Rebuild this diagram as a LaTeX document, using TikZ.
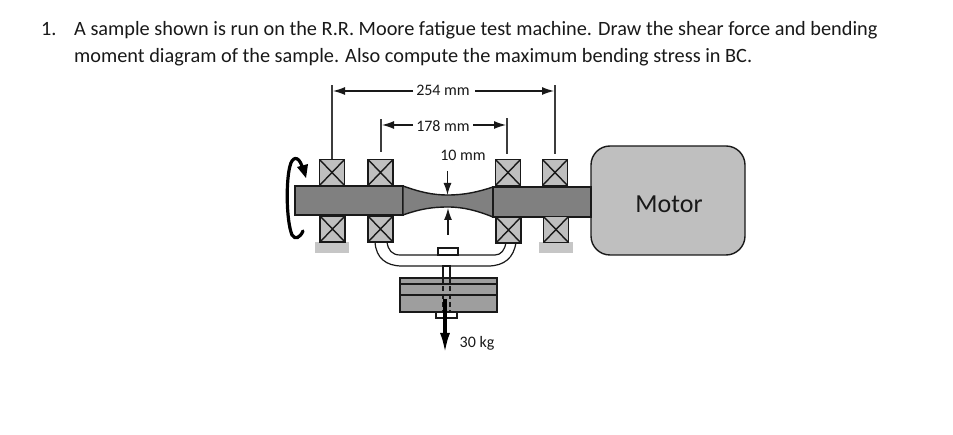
\documentclass[tikz,border=0pt]{standalone}
\usepackage{fontspec}
\setmainfont{Carlito}
\usetikzlibrary{arrows.meta,calc}
\definecolor{lg}{gray}{0.75}
\definecolor{dg}{gray}{0.5}
\definecolor{mg}{gray}{0.62}
\definecolor{ink}{gray}{0.1}
\tikzset{
  x=1pt,y=-1pt,
  brg/.style={draw=ink,line width=1.8pt,fill=lg,minimum width=25pt,minimum height=26pt,inner sep=0pt,outer sep=0pt},
  base/.style={fill=lg!90!white,draw=none,minimum width=34pt,minimum height=11pt,inner sep=0pt},
  dimline/.style={draw=ink!85!white,line width=1.2pt},
  dimarrow/.style={draw=ink,line width=1.2pt,-{Latex[length=12pt,width=8pt]}},
  ptr/.style={draw=ink,line width=1.3pt,-{Latex[length=12pt,width=8pt]}},
  part/.style={draw=ink,line width=1.4pt},
  lab/.style={inner sep=0pt,anchor=base,font=\fontsize{16}{16}\selectfont,text=ink},
  para/.style={inner sep=0pt,anchor=base west,font=\fontsize{20.3}{24}\selectfont,text=ink},
}
\newcommand{\crossed}[1]{\draw[ink,line width=1.4pt] (#1.north west)--(#1.south east) (#1.north east)--(#1.south west);}
\begin{document}
\begin{tikzpicture}
\useasboundingbox (0,0) rectangle (953,435);
\fill[white] (0,0) rectangle (953,435);
% text
\node[para] (n1) at (41,36) {1.};
\node[para] (t1) at (74,36) {A sample shown is run on the R.R. Moore fatigue test machine. Draw the shear force and bending};
\node[para] (t2) at (74,63) {moment diagram of the sample. Also compute the maximum bending stress in BC.};
% ground
\node[base] (g1) at (332,247.5) {};
\node[base] (g2) at (556,247.5) {};
% yoke
\draw[part,line width=1.2pt] (375,242) .. controls (376,258) and (386,266) .. (402,266) -- (488,266) .. controls (504,266) and (514,258) .. (516,242);
\draw[part,line width=1.2pt] (387,242) .. controls (388,250) and (392,255) .. (400,255) -- (495,255) .. controls (501,255) and (505,250) .. (506,242);
\node[part,fill=white,minimum width=20pt,minimum height=7pt,inner sep=0pt,outer sep=0pt] (tab) at (448,251.5) {};
% motor
\node[part,fill=lg,rounded corners=19pt,minimum width=154pt,minimum height=109pt,inner sep=0pt,outer sep=0pt] (motor) at (668,200.5) {};
\node[lab,font=\fontsize{26}{26}\selectfont] (motorlab) at (669,213) {Motor};
% shaft
\draw[part,fill=dg] (295,186) rectangle (403,215);
\draw[part,fill=dg] (403,186) .. controls (420,192) and (432,195) .. (448,195) .. controls (464,195) and (478,192) .. (493,187) -- (493,217) .. controls (478,211) and (464,207) .. (448,207) .. controls (432,207) and (420,209) .. (403,215) -- cycle;
\draw[part,fill=dg] (493,187) rectangle (591,217);
% bearings
\node[brg] (b1) at (332,172.5) {}; \crossed{b1}
\node[brg] (b2) at (380.5,172.5) {}; \crossed{b2}
\node[brg] (b3) at (508,172.5) {}; \crossed{b3}
\node[brg] (b4) at (555,172.5) {}; \crossed{b4}
\node[brg] (b5) at (332.5,229) {}; \crossed{b5}
\node[brg] (b6) at (380.5,229) {}; \crossed{b6}
\node[brg] (b7) at (508.5,230) {}; \crossed{b7}
\node[brg] (b8) at (556,229.5) {}; \crossed{b8}
% dimensions
\node[lab] (d254) at (443,96) {254 mm};
\node[lab] (d178) at (443,132) {178 mm};
\node[lab] (d10) at (463,161) {10 mm};
\coordinate (t254l) at (332,85);
\coordinate (t254r) at (555,85);
\coordinate (t178l) at (381,119);
\coordinate (t178r) at (507,118);
\coordinate (e178l) at (381,152);
\coordinate (e178r) at (507,154);
\coordinate (e254r) at (555,154);
\draw[dimline] (b1.north) -- (t254l);
\draw[dimline] (e254r) -- (t254r);
\draw[dimline] (e178l) -- (t178l);
\draw[dimline] (e178r) -- (t178r);
\coordinate (a254l) at (333,91);
\coordinate (a254r) at (554,91);
\coordinate (a178l) at (382,125);
\coordinate (a178r) at (506,125);
\draw[dimarrow] (413,91) -- (a254l);
\draw[dimarrow] (475,91) -- (a254r);
\draw[dimarrow] (413,125) -- (a178l);
\draw[dimarrow] (473,125) -- (a178r);
% neck arrows
\coordinate (na1) at (447.5,171); \coordinate (nb1) at (447.5,195);
\coordinate (na2) at (448,235); \coordinate (nb2) at (448,208);
\draw[ptr] (na1) -- (nb1);
\draw[ptr] (na2) -- (nb2);
% rotation arrow
\draw[black,line width=3.2pt,line cap=round] (303,231) .. controls (300,238) and (295,240) .. (292,235) .. controls (286,220) and (286,180) .. (290,166) .. controls (292,157) and (298,155) .. (302,166);
\fill[black] (297,167) -- (308,164) -- (306,178) -- cycle;
% stem and weights
\node[part,fill=white,minimum width=7pt,minimum height=12pt,inner sep=0pt,outer sep=0pt] (stem) at (446.5,272) {};
\node[part,fill=white,minimum width=21pt,minimum height=6pt,inner sep=0pt,outer sep=0pt] (nut) at (446.5,315) {};
\node[part,fill=mg,minimum width=97pt,minimum height=34pt,inner sep=0pt,outer sep=0pt] (w) at (448.5,295) {};
\draw[part] (w.west |- 0,284) -- (w.east |- 0,284);
\draw[part] (w.west |- 0,295) -- (w.east |- 0,295);
\draw[part,dashed,dash pattern=on 5pt off 3pt] (443,278) -- (443,312);
\draw[part,dashed,dash pattern=on 5pt off 3pt] (450,278) -- (450,312);
\coordinate (ls) at (445,299);
\coordinate (le) at (445,353);
\draw[black,line width=3.2pt,-{Latex[length=20pt,width=10pt]}] (ls) -- (le);
\node[lab] (kg) at (477,348) {30 kg};
\end{tikzpicture}
\end{document}
